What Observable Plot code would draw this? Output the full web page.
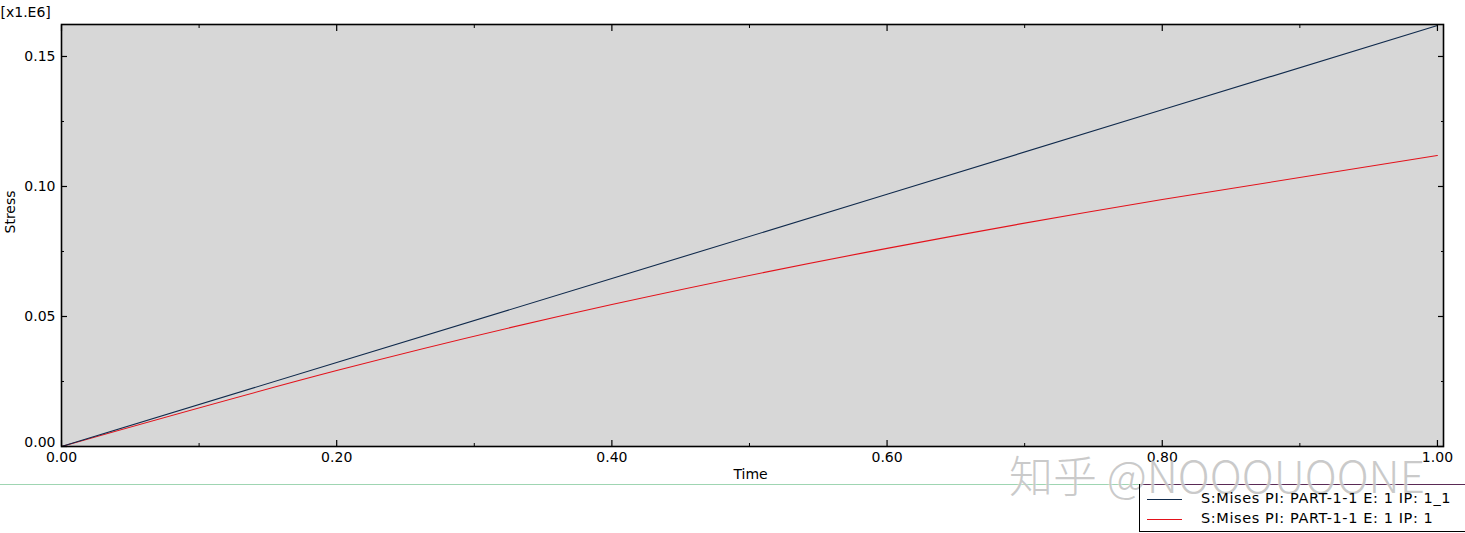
<!DOCTYPE html>
<html>
<head>
<meta charset="utf-8">
<script src="https://cdn.jsdelivr.net/npm/d3@7"></script>
<script src="https://cdn.jsdelivr.net/npm/@observablehq/plot@0.6"></script>
<style>
  html, body { margin: 0; padding: 0; background: #fff; }
  #wrap { position: relative; width: 1465px; height: 533px; overflow: hidden; font-family: "DejaVu Sans", Verdana, sans-serif; }
  #wrap svg { position: absolute; left: 0; top: 0; }
  .sep { position: absolute; top: 484px; height: 1px; }
  .legend { position: absolute; left: 1139px; top: 484px; width: 340px; height: 48px; border-left: 1px solid #000; border-bottom: 1px solid #000; box-sizing: border-box; }
  .lg-row { position: absolute; left: 0; height: 20px; width: 340px; font-size: 14.5px; letter-spacing: 0.6px; color: #000; }
  .lg-row .sw { position: absolute; left: 7px; top: 10px; width: 35px; height: 0; border-top: 1px solid; }
  .lg-row .tx { position: absolute; left: 61px; top: 1px; white-space: nowrap; }
  .wm { position: absolute; left: 1009px; top: 442px; font-size: 44px; color: rgba(185,185,185,0.75); white-space: nowrap; font-family: "Noto Sans CJK SC", "DejaVu Sans", sans-serif; font-weight: 300; text-shadow: 0 0 2px #fff; pointer-events: none; }
</style>
</head>
<body>
<div id="wrap"></div>
<script>
// ---- data ----
const time = [0, 0.2, 0.4, 0.6, 0.8, 1.0];
const misesIP1_1 = [0, 0.0323, 0.0646, 0.0970, 0.1295, 0.1619]; // blue, x1.E6
const misesIP1 = [0, 0.0292, 0.0546, 0.0762, 0.0950, 0.1119];   // red, x1.E6
const seriesNames = ["S:Mises PI: PART-1-1 E: 1 IP: 1_1", "S:Mises PI: PART-1-1 E: 1 IP: 1"];
const seriesColors = ["#102a4c", "#e3121b"];
const xTicks = [0, 0.2, 0.4, 0.6, 0.8, 1.0];
const xMinor = [0.1, 0.3, 0.5, 0.7, 0.9];
const yTicks = [0, 0.05, 0.10, 0.15];
const yMinor = [0.025, 0.075, 0.125];
const xLabel = "Time";
const yLabel = "Stress";
const yScaleNote = "[x1.E6]";
const watermark = "知乎 @NOOOUOONE";

const blue = time.map((t, i) => ({t, v: misesIP1_1[i]}));
const red = time.map((t, i) => ({t, v: misesIP1[i]}));

const fmt = d3.format(".2f");
const font = "DejaVu Sans, Verdana, sans-serif";
const blank = () => "";

const chart = Plot.plot({
  width: 1465,
  height: 533,
  marginTop: 24,
  marginRight: 22,
  marginBottom: 87,
  marginLeft: 61,
  style: {fontFamily: font, fontSize: "14px", background: "transparent", color: "#000"},
  x: {domain: [0, 1.0044], axis: null},
  y: {domain: [0, 0.1623], axis: null},
  marks: [
    Plot.frame({fill: "#d7d7d7", stroke: null}),
    Plot.line(red, {x: "t", y: "v", stroke: seriesColors[1], strokeWidth: 1.1, curve: "natural"}),
    Plot.line(blue, {x: "t", y: "v", stroke: seriesColors[0], strokeWidth: 1.1}),
    Plot.frame({stroke: "#000", strokeWidth: 1.6}),
    // inward major ticks
    Plot.axisX({anchor: "bottom", ticks: xTicks, tickSize: 6, dy: -6, tickFormat: blank, label: null, strokeWidth: 1.2}),
    Plot.axisX({anchor: "top", ticks: xTicks, tickSize: 6, dy: 6, tickFormat: blank, label: null, strokeWidth: 1.2}),
    Plot.axisY({anchor: "left", ticks: yTicks, tickSize: 6, dx: 6, tickFormat: blank, label: null, strokeWidth: 1.2}),
    Plot.axisY({anchor: "right", ticks: yTicks, tickSize: 6, dx: -6, tickFormat: blank, label: null, strokeWidth: 1.2}),
    // inward minor ticks
    Plot.axisX({anchor: "bottom", ticks: xMinor, tickSize: 3, dy: -3, tickFormat: blank, label: null}),
    Plot.axisX({anchor: "top", ticks: xMinor, tickSize: 3, dy: 3, tickFormat: blank, label: null}),
    Plot.axisY({anchor: "left", ticks: yMinor, tickSize: 3, dx: 3, tickFormat: blank, label: null}),
    Plot.axisY({anchor: "right", ticks: yMinor, tickSize: 3, dx: -3, tickFormat: blank, label: null}),
    // tick labels
    Plot.axisX({anchor: "bottom", ticks: xTicks, tickSize: 0, tickPadding: 6, tickFormat: fmt, fontSize: 14, label: null}),
    Plot.axisY({anchor: "left", ticks: yTicks.filter(d => d > 0), tickSize: 0, tickPadding: 6, tickFormat: fmt, fontSize: 14, label: null}),
    Plot.axisY({anchor: "left", ticks: yTicks.filter(d => d === 0), tickSize: 0, tickPadding: 6, dy: -4, tickFormat: fmt, fontSize: 14, label: null}),
    // axis titles
    Plot.text([xLabel], {text: d => d, frameAnchor: "bottom", dy: 28, dx: -2, fontSize: 14, lineAnchor: "middle"}),
    Plot.text([yLabel], {text: d => d, frameAnchor: "left", dx: -51, dy: -2, rotate: -90, fontSize: 14, lineAnchor: "middle"}),
    Plot.text([yScaleNote], {text: d => d, frameAnchor: "top-left", dx: -61, dy: -12, textAnchor: "start", fontSize: 14, lineAnchor: "middle"})
  ]
});

const wrap = document.getElementById("wrap");
wrap.appendChild(chart);

// separator lines (green to the left of the legend, dark purple above it)
const sepL = document.createElement("div");
sepL.className = "sep";
sepL.style.left = "0px"; sepL.style.width = "1139px"; sepL.style.background = "#9fd5b2";
wrap.appendChild(sepL);
const sepR = document.createElement("div");
sepR.className = "sep";
sepR.style.left = "1139px"; sepR.style.width = "326px"; sepR.style.background = "#5a2a55";
wrap.appendChild(sepR);

// watermark
const wm = document.createElement("div");
wm.className = "wm";
wm.textContent = watermark;
wrap.appendChild(wm);

// legend
const lg = document.createElement("div");
lg.className = "legend";
seriesNames.forEach((name, i) => {
  const row = document.createElement("div");
  row.className = "lg-row";
  row.style.top = (5 + i * 20) + "px";
  const sw = document.createElement("div");
  sw.className = "sw";
  sw.style.borderTopColor = seriesColors[i];
  const tx = document.createElement("div");
  tx.className = "tx";
  tx.textContent = name;
  row.appendChild(sw); row.appendChild(tx);
  lg.appendChild(row);
});
wrap.appendChild(lg);
</script>
</body>
</html>
